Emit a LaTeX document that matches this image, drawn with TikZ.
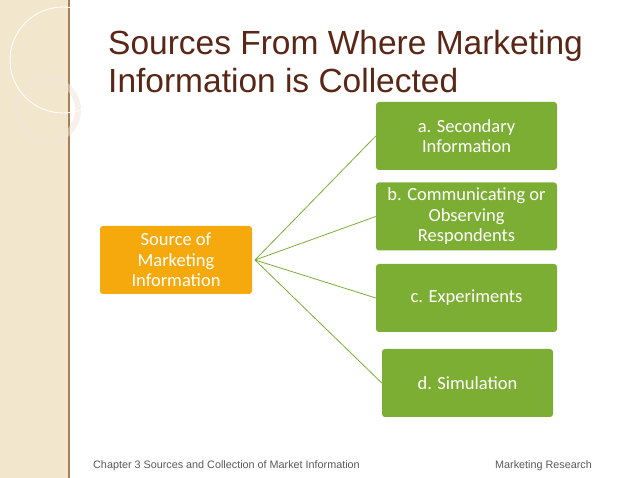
\documentclass[tikz,border=0pt]{standalone}
\usepackage{fontspec}
\setmainfont{Liberation Sans}
\newfontfamily\boxfont{Carlito}
\begin{document}
\begin{tikzpicture}[x=1pt,y=-1pt,
  gbox/.style={fill=gfill, draw=none, rounded corners=3pt, text=white, font=\boxfont\fontsize{18.5}{20.5}\selectfont, align=center, minimum width=181pt, minimum height=68pt, inner sep=1pt},
  conn/.style={draw=gline, line width=0.8pt}]
\definecolor{gfill}{HTML}{7DAE34}
\definecolor{gline}{HTML}{7DAE34}
\definecolor{ofill}{HTML}{F6A90C}
\definecolor{strip}{HTML}{F2E6CC}
\definecolor{titlec}{HTML}{5A2615}
\useasboundingbox (0,0) rectangle (638,478);
\fill[white] (0,0) rectangle (638,478);
\fill[strip] (0,0) rectangle (69,478);
\draw[line width=1.2pt, color=brown!60!gray] (69,0) -- (69,478);
\draw[line width=6pt, color=white!80!brown, opacity=0.5] (47,110) circle (31);
\draw[line width=0.9pt, color=white] (63,60) circle (53);
\node[anchor=base west, text=titlec, font=\fontsize{33.5}{38}\selectfont, inner sep=0pt] (t1) at (108,55) {Sources From Where Marketing};
\node[anchor=base west, text=titlec, font=\fontsize{33.5}{38}\selectfont, inner sep=0pt] (t2) at (108,93) {Information is Collected};
\node[fill=ofill, rounded corners=3pt, text=white, font=\boxfont\fontsize{18.5}{20.5}\selectfont, align=center, minimum width=152pt, minimum height=68pt, inner sep=1pt] (src) at (176,260) {Source of\\Marketing\\Information};
\node[gbox] (a) at (466.5,136) {a. Secondary\\Information};
\node[gbox] (b) at (466.5,216.5) {b. Communicating or\\Observing\\Respondents};
\node[gbox] (c) at (466.5,298) {c. Experiments};
\node[gbox, minimum width=171pt] (d) at (467.5,383) {d. Simulation};
\coordinate (hub) at (255,260);
\foreach \n in {a,b,c,d} \draw[conn] (hub) -- (\n.west);
\node[anchor=base west, text=gray!70!black, font=\fontsize{10.8}{12}\selectfont, inner sep=0pt] (f1) at (93,469) {Chapter 3 Sources and Collection of Market Information};
\node[anchor=base east, text=gray!70!black, font=\fontsize{10.8}{12}\selectfont, inner sep=0pt] (f2) at (592,469) {Marketing Research};
\end{tikzpicture}
\end{document}
